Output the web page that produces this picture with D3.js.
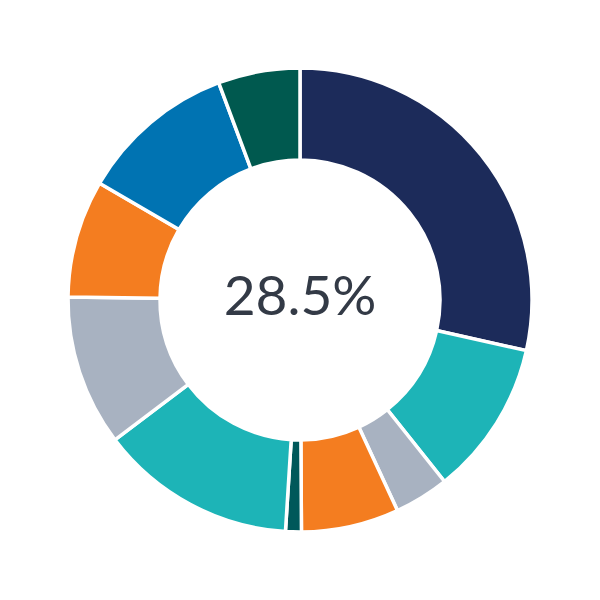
<!DOCTYPE html>
<html>
<head>
<meta charset="utf-8">
<script src="https://cdn.jsdelivr.net/npm/d3@7"></script>
<style>
  html, body { margin: 0; padding: 0; background: #fff; }
</style>
</head>
<body>
<svg id="chart" width="600" height="600"></svg>
<script>
// slices, clockwise from 12 o'clock
const categories = ["S1", "S2", "S3", "S4", "S5", "S6", "S7", "S8", "S9", "S10"];
const values = [28.5, 10.8, 3.8, 6.8, 1.1, 13.7, 10.5, 8.2, 10.9, 5.7];
const colors = ["#1c2b5a", "#1db4b7", "#a8b2c1", "#f47d20", "#00585a",
                "#1db4b7", "#a8b2c1", "#f47d20", "#0073b2", "#00594f"];
const centerLabel = "28.5%";

const svg = d3.select("#chart");
const cx = 300, cy = 300;
const outerR = 232, innerR = 140;

const data = categories.map((c, i) => ({ category: c, value: values[i], color: colors[i] }));

const pie = d3.pie().sort(null).value(d => d.value);
const arc = d3.arc().innerRadius(innerR).outerRadius(outerR);

const g = svg.append("g").attr("transform", "translate(" + cx + "," + cy + ")");

g.selectAll("path")
  .data(pie(data))
  .enter().append("path")
  .attr("d", arc)
  .attr("fill", d => d.data.color)
  .attr("stroke", "#fff")
  .attr("stroke-width", 3.5)
  .attr("stroke-linejoin", "miter");

g.append("text")
  .attr("x", 0)
  .attr("y", 15)
  .attr("text-anchor", "middle")
  .attr("font-family", "Lato, sans-serif")
  .attr("font-size", "55px")
  .attr("fill", "#333a46")
  .text(centerLabel);
</script>
</body>
</html>
